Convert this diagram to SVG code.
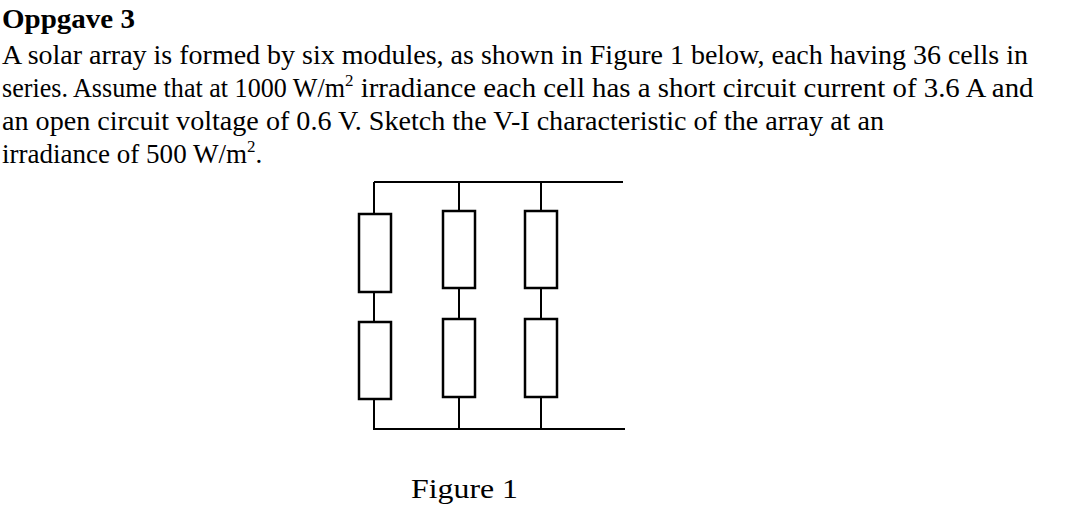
<svg xmlns="http://www.w3.org/2000/svg" width="1079" height="523" viewBox="0 0 1079 523">
<style>
text{font-family:"Liberation Serif",serif;font-size:27px;fill:#000}
.w{stroke:#000;stroke-width:2;fill:none}
.m{stroke:#000;stroke-width:2.5;fill:#fff}
</style>
<rect width="1079" height="523" fill="#fff"/>
<text x="2" y="28" font-weight="bold" font-size="29" textLength="133" lengthAdjust="spacingAndGlyphs">Oppgave 3</text>
<text x="2" y="64" textLength="1026" lengthAdjust="spacingAndGlyphs">A solar array is formed by six modules, as shown in Figure 1 below, each having 36 cells in</text>
<text x="2" y="97"><tspan textLength="343" lengthAdjust="spacingAndGlyphs">series. Assume that at 1000 W/m</tspan><tspan font-size="17" dy="-11">2</tspan><tspan dy="11" textLength="680" lengthAdjust="spacingAndGlyphs"> irradiance each cell has a short circuit current of 3.6 A and</tspan></text>
<text x="2" y="130" textLength="882" lengthAdjust="spacingAndGlyphs">an open circuit voltage of 0.6 V. Sketch the V-I characteristic of the array at an</text>
<text x="2" y="163"><tspan textLength="245" lengthAdjust="spacingAndGlyphs">irradiance of 500 W/m</tspan><tspan font-size="17" dy="-11">2</tspan><tspan dy="11">.</tspan></text>
<g id="connectors">
<path class="w" d="M374 182H623M374 182V214M374 292V322M374 399V429H625M459 182V211M459 288V319M459 397V428M541 182V211M541 288V319M541 397V428"/>
</g>
<g id="m1"><rect class="m" x="359" y="214" width="32" height="78"/></g>
<g id="m2"><rect class="m" x="359" y="322" width="32" height="77"/></g>
<g id="m3"><rect class="m" x="443" y="211" width="32" height="77"/></g>
<g id="m4"><rect class="m" x="443" y="319" width="32" height="78"/></g>
<g id="m5"><rect class="m" x="525" y="211" width="32" height="77"/></g>
<g id="m6"><rect class="m" x="525" y="319" width="32" height="78"/></g>
<text x="411" y="498" font-size="30" textLength="107" lengthAdjust="spacingAndGlyphs">Figure 1</text>
</svg>
